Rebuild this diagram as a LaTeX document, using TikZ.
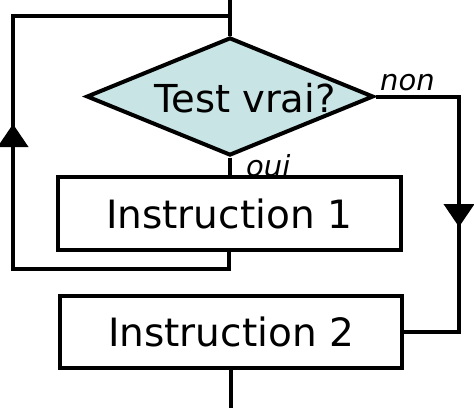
\documentclass[tikz,border=0pt]{standalone}
\usepackage{fontspec}
\setmainfont{DejaVu Sans}
\usetikzlibrary{shapes.geometric,arrows.meta,decorations.markings}
\definecolor{testfill}{RGB}{200,228,228}
\tikzset{
  line/.style={line width=4pt, line join=miter},
  instbox/.style={draw, line width=4pt, fill=white, inner sep=0pt,
    font=\fontsize{39}{40}\selectfont},
  testshape/.style={draw, diamond, line width=4pt, fill=testfill, inner sep=0pt},
  lbl/.style={font=\fontsize{29}{30}\selectfont\itshape, inner sep=0pt, anchor=base west},
  tip/.style={postaction={decorate, decoration={markings,
      mark=at position #1 with {\arrow{Triangle[width=30pt,length=23pt]}}}}}
}
\begin{document}
\begin{tikzpicture}[x=1pt,y=-1pt]
\useasboundingbox (0,0) rectangle (474,408);
% nodes
\node[testshape, minimum width=287pt, minimum height=118pt] (d) at (230,96.5) {};
\node[font=\fontsize{38.5}{40}\selectfont, inner sep=0pt, anchor=base] (dt) at (245,112) {Test vrai?};
\node[instbox, minimum width=343pt, minimum height=73pt] (i1) at (229,213.5) {Instruction 1};
\node[instbox, minimum width=342pt, minimum height=72pt] (i2) at (231,332) {Instruction 2};
\node[lbl] (oui) at (246,176) {oui};
\node[lbl] (non) at (380,90) {non};
% coordinates
\coordinate (top) at (230,0);
\coordinate (j) at (230,16);
\coordinate (lb) at (13,269);
\coordinate (lt) at (13,16);
\coordinate (rt) at (459,96.5);
\coordinate (rb) at (459,332);
\coordinate (bot) at (231,408);
% connectors
\draw[line] (top) -- (d.north);
\draw[line] (d.south) -- (d.south |- i1.north);
\draw[line, tip=378pt] (i1.south) |- (lb) -- (lt) -- (j);
\draw[line, tip=214pt] (d.east) -- (rt) -- (rb) -- (i2.east);
\draw[line] (i2.south) -- (bot);
\end{tikzpicture}
\end{document}
